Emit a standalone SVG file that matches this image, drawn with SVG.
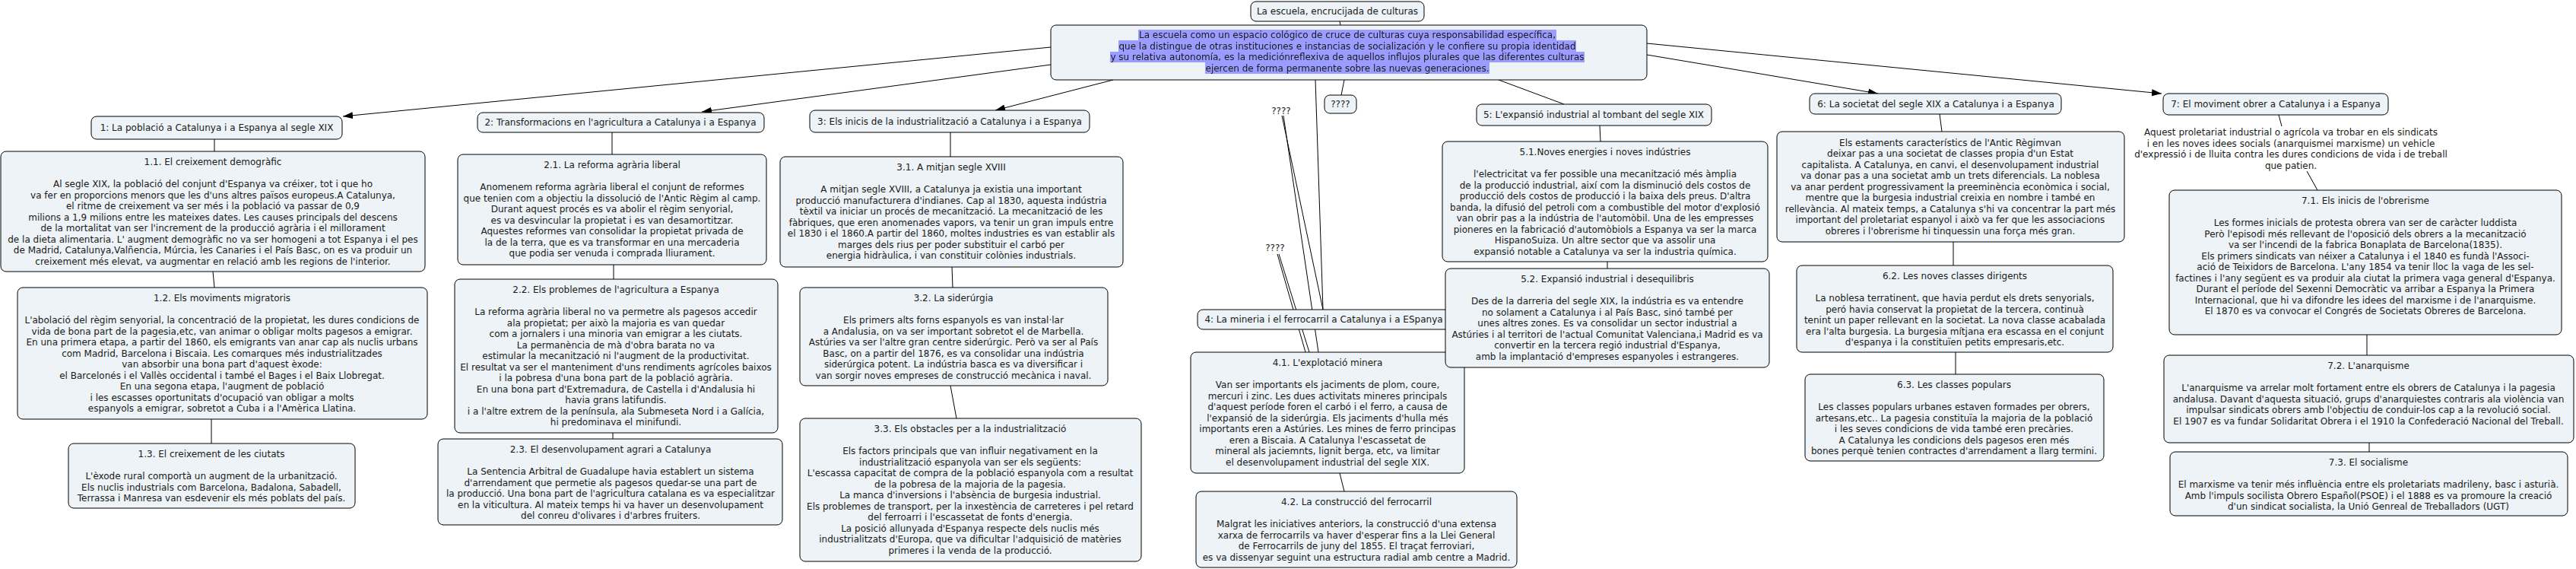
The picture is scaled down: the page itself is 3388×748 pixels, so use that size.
<svg xmlns="http://www.w3.org/2000/svg" width="3388" height="748" viewBox="0 0 3388 748">
<style>
.n{fill:#edf3f6;stroke:#000;stroke-width:1}
text{font-family:"DejaVu Sans",Verdana,sans-serif;font-size:12px;fill:#1a1a1a;text-anchor:middle}
.c{stroke:#000;stroke-width:1;fill:none}
.a{marker-end:url(#arr)}
.hl{filter:url(#hlf)}
</style>
<defs>
<marker id="arr" markerUnits="userSpaceOnUse" markerWidth="14" markerHeight="10" refX="13" refY="5" orient="auto"><path d="M0,0.5 L13,5 L0,9.5 z" fill="#000"/></marker>
<filter id="hlf" x="0" y="0" width="1" height="1" color-interpolation-filters="sRGB"><feFlood flood-color="#9a9cff" result="bg"/><feComposite in="SourceGraphic" in2="bg" operator="over"/></filter>
</defs>
<rect width="3388" height="748" fill="#fff"/>
<g id="connectors">
<path class="c" d="M1762,28 L1763,33"/>
<path class="c a" d="M1382,62 L451,153"/>
<path class="c a" d="M1382,85 L923,147"/>
<path class="c a" d="M1464,105 L1309,145"/>
<path class="c" d="M1768,105 L1764,125"/>
<path class="c" d="M1730,105 L1740,407"/>
<path class="c" d="M1688,152 L1734,463"/>
<path class="c" d="M1686,152 L1740,407"/>
<path class="c" d="M1680,334 L1717,463"/>
<path class="c" d="M1682,334 L1722,463"/>
<path class="c" d="M1971,105 L2057,137"/>
<path class="c a" d="M2166,72 L2470,123"/>
<path class="c a" d="M2166,57 L2843,123"/>
<path class="c" d="M282,183 L282,199"/>
<path class="c" d="M280,357 L282,378"/>
<path class="c" d="M278,551 L278,583"/>
<path class="c" d="M805,174 L805,203"/>
<path class="c" d="M807,348 L807,367"/>
<path class="c" d="M806,569 L806,577"/>
<path class="c" d="M1250,174 L1250,206"/>
<path class="c" d="M1252,351 L1253,378"/>
<path class="c" d="M1250,507 L1258,550"/>
<path class="c" d="M1762,622 L1768,646"/>
<path class="c" d="M2104,165 L2105,186"/>
<path class="c" d="M2114,344 L2114,353"/>
<path class="c" d="M2551,150 L2554,173"/>
<path class="c" d="M2569,318 L2569,349"/>
<path class="c" d="M2572,463 L2572,492"/>
<path class="c" d="M2997,151 L3001,166"/>
<path class="c" d="M3034,225 L3048,250"/>
<path class="c" d="M3113,440 L3113,467"/>
<path class="c" d="M3116,582 L3116,594"/>
</g>
<g id="title"><rect class="n" x="1645" y="2" width="228" height="26" rx="7"/><text x="1759" y="19">La escuela, encrucijada de culturas</text></g>
<g id="central"><rect class="n" x="1382" y="33" width="784" height="72" rx="7"/>
<text class="hl" x="1772" y="50">La escuela como un espacio cológico de cruce de culturas cuya responsabilidad específica,</text>
<text class="hl" x="1772" y="64.5">que la distingue de otras instituciones e instancias de socialización y le confiere su propia identidad</text>
<text class="hl" x="1772" y="79">y su relativa autonomía, es la mediciónreflexiva de aquellos influjos plurales que las diferentes culturas</text>
<text class="hl" x="1772" y="93.5">ejercen de forma permanente sobre las nuevas generaciones.</text></g>
<g id="q1"><rect class="n" x="1742" y="125" width="42" height="24" rx="7"/><text x="1763" y="141">????</text></g>
<g id="q2"><text x="1685" y="150">????</text></g>
<g id="q3"><text x="1677" y="330">????</text></g>
<g id="n1"><rect class="n" x="120" y="153" width="330" height="30" rx="7"/><text x="285" y="172">1: La població a Catalunya i a Espanya al segle XIX</text></g>
<g id="n1_1"><rect class="n" x="1" y="199" width="558" height="158" rx="7"/>
<text x="280" y="217">1.1. El creixement demogràfic</text>
<text x="280" y="246">Al segle XIX, la població del conjunt d'Espanya va créixer, tot i que ho</text>
<text x="280" y="260.5">va fer en proporcions menors que les d'uns altres països europeus.A Catalunya,</text>
<text x="280" y="275">el ritme de creixement va ser més i la població va passar de 0,9</text>
<text x="280" y="289.5">milions a 1,9 milions entre les mateixes dates. Les causes principals del descens</text>
<text x="280" y="304">de la mortalitat van ser l'increment de la producció agrària i el millorament</text>
<text x="280" y="318.5">de la dieta alimentaria. L' augment demogràfic no va ser homogeni a tot Espanya i el pes</text>
<text x="280" y="333">de Madrid, Catalunya,Valñencia, Múrcia, les Canaries i el País Basc, on es va produir un</text>
<text x="280" y="347.5">creixement més elevat, va augmentar en relació amb les regions de l'interior.</text></g>
<g id="n1_2"><rect class="n" x="23" y="378" width="539" height="173" rx="7"/>
<text x="292" y="396">1.2. Els moviments migratoris</text>
<text x="292" y="425">L'abolació del règim senyorial, la concentració de la propietat, les dures condicions de</text>
<text x="292" y="439.5">vida de bona part de la pagesia,etc, van animar o obligar molts pagesos a emigrar.</text>
<text x="292" y="454">En una primera etapa, a partir del 1860, els emigrants van anar cap als nuclis urbans</text>
<text x="292" y="468.5">com Madrid, Barcelona i Biscaia. Les comarques més industrialitzades</text>
<text x="292" y="483">van absorbir una bona part d'aquest èxode:</text>
<text x="292" y="497.5">el Barcelonés i el Vallès occidental i també el Bages i el Baix Llobregat.</text>
<text x="292" y="512">En una segona etapa, l'augment de població</text>
<text x="292" y="526.5">i les escasses oportunitats d'ocupació van obligar a molts</text>
<text x="292" y="541">espanyols a emigrar, sobretot a Cuba i a l'Amèrica Llatina.</text></g>
<g id="n1_3"><rect class="n" x="90" y="583" width="377" height="85" rx="7"/>
<text x="278" y="601">1.3. El creixement de les ciutats</text>
<text x="278" y="630">L'èxode rural comportà un augment de la urbanització.</text>
<text x="278" y="644.5">Els nuclis industrials com Barcelona, Badalona, Sabadell,</text>
<text x="278" y="659">Terrassa i Manresa van esdevenir els més poblats del país.</text></g>
<g id="n2"><rect class="n" x="628" y="148" width="377" height="26" rx="7"/><text x="816" y="165">2: Transformacions en l'agricultura a Catalunya i a Espanya</text></g>
<g id="n2_1"><rect class="n" x="602" y="203" width="406" height="145" rx="7"/>
<text x="805" y="221">2.1. La reforma agrària liberal</text>
<text x="805" y="250">Anomenem reforma agrària liberal el conjunt de reformes</text>
<text x="805" y="264.5">que tenien com a objectiu la dissolució de l'Antic Règim al camp.</text>
<text x="805" y="279">Durant aquest procés es va abolir el règim senyorial,</text>
<text x="805" y="293.5">es va desvincular la propietat i es van desamortitzar.</text>
<text x="805" y="308">Aquestes reformes van consolidar la propietat privada de</text>
<text x="805" y="322.5">la de la terra, que es va transformar en una mercaderia</text>
<text x="805" y="337">que podia ser venuda i comprada lliurament.</text></g>
<g id="n2_2"><rect class="n" x="598" y="367" width="425" height="202" rx="7"/>
<text x="810" y="385">2.2. Els problemes de l'agricultura a Espanya</text>
<text x="810" y="414">La reforma agrària liberal no va permetre als pagesos accedir</text>
<text x="810" y="428.5">ala propietat; per això la majoria es van quedar</text>
<text x="810" y="443">com a jornalers i una minoria van emigrar a les ciutats.</text>
<text x="810" y="457.5">La permanència de mà d'obra barata no va</text>
<text x="810" y="472">estimular la mecanització ni l'augment de la productivitat.</text>
<text x="810" y="486.5">El resultat va ser el manteniment d'uns rendiments agrícoles baixos</text>
<text x="810" y="501">i la pobresa d'una bona part de la població agrària.</text>
<text x="810" y="515.5">En una bona part d'Extremadura, de Castella i d'Andalusia hi</text>
<text x="810" y="530">havia grans latifundis.</text>
<text x="810" y="544.5">i a l'altre extrem de la península, ala Submeseta Nord i a Galícia,</text>
<text x="810" y="559">hi predominava el minifundi.</text></g>
<g id="n2_3"><rect class="n" x="576" y="577" width="453" height="113" rx="7"/>
<text x="803" y="595">2.3. El desenvolupament agrari a Catalunya</text>
<text x="803" y="624">La Sentencia Arbitral de Guadalupe havia establert un sistema</text>
<text x="803" y="638.5">d'arrendament que permetie als pagesos quedar-se una part de</text>
<text x="803" y="653">la producció. Una bona part de l'agricultura catalana es va especialitzar</text>
<text x="803" y="667.5">en la viticultura. Al mateix temps hi va haver un desenvolupament</text>
<text x="803" y="682">del conreu d'olivares i d'arbres fruiters.</text></g>
<g id="n3"><rect class="n" x="1065" y="145" width="368" height="29" rx="7"/><text x="1249" y="164">3: Els inicis de la industrialització a Catalunya i a Espanya</text></g>
<g id="n3_1"><rect class="n" x="1026" y="206" width="451" height="145" rx="7"/>
<text x="1251" y="224">3.1. A mitjan segle XVIII</text>
<text x="1251" y="253">A mitjan segle XVIII, a Catalunya ja existia una important</text>
<text x="1251" y="267.5">producció manufacturera d'indianes. Cap al 1830, aquesta indústria</text>
<text x="1251" y="282">tèxtil va iniciar un procés de mecanització. La mecanització de les</text>
<text x="1251" y="296.5">fàbriques, que eren anomenades vapors, va tenir un gran impuls entre</text>
<text x="1251" y="311">el 1830 i el 1860.A partir del 1860, moltes industries es van establir als</text>
<text x="1251" y="325.5">marges dels rius per poder substituir el carbó per</text>
<text x="1251" y="340">energia hidràulica, i van constituir colònies industrials.</text></g>
<g id="n3_2"><rect class="n" x="1052" y="378" width="405" height="129" rx="7"/>
<text x="1254" y="396">3.2. La siderúrgia</text>
<text x="1254" y="425">Els primers alts forns espanyols es van instal·lar</text>
<text x="1254" y="439.5">a Andalusia, on va ser important sobretot el de Marbella.</text>
<text x="1254" y="454">Astúries va ser l'altre gran centre siderúrgic. Però va ser al País</text>
<text x="1254" y="468.5">Basc, on a partir del 1876, es va consolidar una indústria</text>
<text x="1254" y="483">siderúrgica potent. La indústria basca es va diversificar i</text>
<text x="1254" y="497.5">van sorgir noves empreses de construcció mecànica i naval.</text></g>
<g id="n3_3"><rect class="n" x="1052" y="550" width="449" height="188" rx="7"/>
<text x="1276" y="568">3.3. Els obstacles per a la industrialització</text>
<text x="1276" y="597">Els factors principals que van influir negativament en la</text>
<text x="1276" y="611.5">industrialització espanyola van ser els següents:</text>
<text x="1276" y="626">L'escassa capacitat de compra de la població espanyola com a resultat</text>
<text x="1276" y="640.5">de la pobresa de la majoria de la pagesia.</text>
<text x="1276" y="655">La manca d'inversions i l'absència de burgesia industrial.</text>
<text x="1276" y="669.5">Els problemes de transport, per la inxestència de carreteres i pel retard</text>
<text x="1276" y="684">del ferroarri i l'escassetat de fonts d'energia.</text>
<text x="1276" y="698.5">La posició allunyada d'Espanya respecte dels nuclis més</text>
<text x="1276" y="713">industrialitzats d'Europa, que va dificultar l'adquisició de matèries</text>
<text x="1276" y="727.5">primeres i la venda de la producció.</text></g>
<g id="n4"><rect class="n" x="1575" y="407" width="332" height="26" rx="7"/><text x="1741" y="424">4: La mineria i el ferrocarril a Catalunya i a ESpanya</text></g>
<g id="n4_1"><rect class="n" x="1566" y="463" width="360" height="159" rx="7"/>
<text x="1746" y="481">4.1. L'explotació minera</text>
<text x="1746" y="510">Van ser importants els jaciments de plom, coure,</text>
<text x="1746" y="524.5">mercuri i zinc. Les dues activitats mineres principals</text>
<text x="1746" y="539">d'aquest període foren el carbó i el ferro, a causa de</text>
<text x="1746" y="553.5">l'expansió de la siderúrgia. Els jaciments d'hulla més</text>
<text x="1746" y="568">importants eren a Astúries. Les mines de ferro principas</text>
<text x="1746" y="582.5">eren a Biscaia. A Catalunya l'escassetat de</text>
<text x="1746" y="597">mineral als jaciemnts, lignit berga, etc, va limitar</text>
<text x="1746" y="611.5">el desenvolupament industrial del segle XIX.</text></g>
<g id="n4_2"><rect class="n" x="1573" y="646" width="422" height="100" rx="7"/>
<text x="1784" y="664">4.2. La construcció del ferrocarril</text>
<text x="1784" y="693">Malgrat les iniciatives anteriors, la construcció d'una extensa</text>
<text x="1784" y="707.5">xarxa de ferrocarrils va haver d'esperar fins  a la Llei General</text>
<text x="1784" y="722">de Ferrocarrils de juny del 1855. El traçat ferroviari,</text>
<text x="1784" y="736.5">es va dissenyar seguint una estructura radial amb centre a Madrid.</text></g>
<g id="n5"><rect class="n" x="1942" y="137" width="309" height="28" rx="7"/><text x="2096" y="155">5: L'expansió industrial al tombant del segle XIX</text></g>
<g id="n5_1"><rect class="n" x="1897" y="186" width="428" height="158" rx="7"/>
<text x="2111" y="204">5.1.Noves energies i noves indústries</text>
<text x="2111" y="233">l'electricitat  va fer possible una mecanització més àmplia</text>
<text x="2111" y="247.5">de la producció industrial, així com la disminució dels costos de</text>
<text x="2111" y="262">producció dels costos de producció i la baixa dels preus. D'altra</text>
<text x="2111" y="276.5">banda, la difusió del petroli com a combustible del motor d'explosió</text>
<text x="2111" y="291">van obrir pas a la indústria de l'automòbil. Una de les empresses</text>
<text x="2111" y="305.5">pioneres en la fabricació d'automòbiols a Espanya va ser la marca</text>
<text x="2111" y="320">HispanoSuiza. Un altre sector que va assolir una</text>
<text x="2111" y="334.5">expansió notable a Catalunya va ser la industria química.</text></g>
<g id="n5_2"><rect class="n" x="1901" y="353" width="426" height="130" rx="7"/>
<text x="2114" y="371">5.2. Expansió industrial i desequilibris</text>
<text x="2114" y="400">Des de la darreria del segle XIX, la indústria es va entendre</text>
<text x="2114" y="414.5">no solament a Catalunya i al País Basc, sinó també per</text>
<text x="2114" y="429">unes altres zones. Es va consolidar un sector industrial a</text>
<text x="2114" y="443.5">Astúries i al territori de l'actual Comunitat Valenciana,i Madrid es va</text>
<text x="2114" y="458">convertir en la tercera regió industrial d'Espanya,</text>
<text x="2114" y="472.5">amb la implantació d'empreses espanyoles i estrangeres.</text></g>
<g id="n6"><rect class="n" x="2380" y="123" width="331" height="27" rx="7"/><text x="2546" y="141">6: La societat del segle XIX a Catalunya i a Espanya</text></g>
<g id="n6_1"><rect class="n" x="2337" y="173" width="457" height="145" rx="7"/>
<text x="2565" y="191.5">Els estaments característics de l'Antic Règimvan</text>
<text x="2565" y="206">deixar pas a una societat de classes propia d'un Estat</text>
<text x="2565" y="220.5">capitalista. A Catalunya, en canvi, el desenvolupament industrial</text>
<text x="2565" y="235">va donar pas a una societat amb un trets diferencials. La noblesa</text>
<text x="2565" y="249.5">va anar perdent progressivament la preeminència econòmica i social,</text>
<text x="2565" y="264">mentre que la burgesia industrial creixia en nombre i també en</text>
<text x="2565" y="278.5">rellevància. Al mateix temps, a Catalunya s'hi va concentrar la part més</text>
<text x="2565" y="293">important del proletariat espanyol i això va fer que les associacions</text>
<text x="2565" y="307.5">obreres i l'obrerisme hi tinquessin una força més gran.</text></g>
<g id="n6_2"><rect class="n" x="2363" y="349" width="416" height="114" rx="7"/>
<text x="2571" y="367">6.2. Les noves classes dirigents</text>
<text x="2571" y="396">La noblesa terratinent, que havia perdut els drets senyorials,</text>
<text x="2571" y="410.5">peró havia conservat la propietat de la tercera, continuà</text>
<text x="2571" y="425">tenint un paper rellevant en la societat. La nova classe acabalada</text>
<text x="2571" y="439.5">era l'alta burgesia. La burgesia mítjana era escassa en el conjunt</text>
<text x="2571" y="454">d'espanya i la constituïen petits empresaris,etc.</text></g>
<g id="n6_3"><rect class="n" x="2374" y="492" width="393" height="114" rx="7"/>
<text x="2570" y="510">6.3. Les classes populars</text>
<text x="2570" y="539">Les classes populars urbanes estaven formades per obrers,</text>
<text x="2570" y="553.5">artesans,etc.. La pagesia constituïa la majoria de la població</text>
<text x="2570" y="568">i les seves condicions de vida també eren precàries.</text>
<text x="2570" y="582.5">A Catalunya les condicions dels pagesos eren més</text>
<text x="2570" y="597">bones perquè tenien contractes d'arrendament a llarg termini.</text></g>
<g id="n7"><rect class="n" x="2845" y="123" width="296" height="28" rx="7"/><text x="2993" y="141">7: El moviment obrer a Catalunya i a Espanya</text></g>
<g id="n7_label">
<text x="3013" y="178">Aquest proletariat industrial o agrícola va trobar en els sindicats</text>
<text x="3013" y="192.5">i en les noves idees socials (anarquismei marxisme) un vehicle</text>
<text x="3013" y="207">d'expressió i de lluita contra les dures condicions de vida i de treball</text>
<text x="3013" y="221.5">que patien.</text></g>
<g id="n7_1"><rect class="n" x="2853" y="250" width="516" height="190" rx="7"/>
<text x="3111" y="268">7.1. Els inicis de l'obrerisme</text>
<text x="3111" y="297">Les formes inicials de protesta obrera van ser de caràcter luddista</text>
<text x="3111" y="311.5">Però l'episodi més rellevant de l'oposició dels obrers a la mecanització</text>
<text x="3111" y="326">va ser l'incendi de la fabrica Bonaplata de Barcelona(1835).</text>
<text x="3111" y="340.5">Els primers sindicats van néixer a Catalunya i el 1840 es fundà l'Associ-</text>
<text x="3111" y="355">ació de Teixidors de Barcelona. L'any 1854 va tenir lloc la vaga de les sel-</text>
<text x="3111" y="369.5">factines i l'any següent es va produir ala ciutat la primera vaga general d'Espanya.</text>
<text x="3111" y="384">Durant el període del Sexenni Democràtic va arribar a Espanya la Primera</text>
<text x="3111" y="398.5">Internacional, que hi va difondre les idees del marxisme i de l'anarquisme.</text>
<text x="3111" y="413">El 1870 es va convocar el Congrés de Societats Obreres de Barcelona.</text></g>
<g id="n7_2"><rect class="n" x="2846" y="467" width="539" height="115" rx="7"/>
<text x="3115" y="485">7.2. L'anarquisme</text>
<text x="3115" y="514">L'anarquisme va arrelar molt fortament entre els obrers de Catalunya i la pagesia</text>
<text x="3115" y="528.5">andalusa. Davant d'aquesta situació, grups d'anarquiestes contraris ala violència van</text>
<text x="3115" y="543">impulsar sindicats obrers amb l'objectiu de conduir-los cap a la revolució social.</text>
<text x="3115" y="557.5">El 1907 es va fundar Solidaritat Obrera i el 1910 la Confederació Nacional del Treball.</text></g>
<g id="n7_3"><rect class="n" x="2854" y="594" width="523" height="84" rx="7"/>
<text x="3115" y="612">7.3. El socialisme</text>
<text x="3115" y="641">El marxisme va tenir més influència entre els proletariats madrileny, basc i asturià.</text>
<text x="3115" y="655.5">Amb l'impuls socilista Obrero Español(PSOE) i el 1888 es va promoure la creació</text>
<text x="3115" y="670">d'un sindicat socialista, la Unió Genreal de Treballadors (UGT)</text></g>
</svg>
